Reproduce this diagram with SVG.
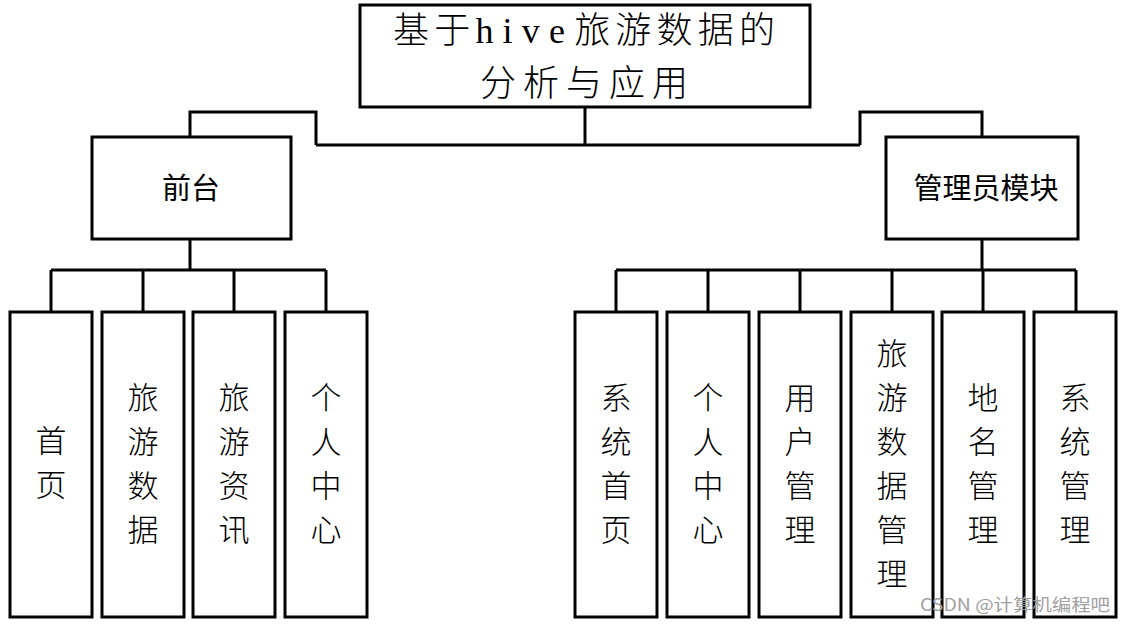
<svg xmlns="http://www.w3.org/2000/svg" width="1126" height="624" viewBox="0 0 1126 624">
<style>
.box{fill:#fff;stroke:#000;stroke-width:3}
.ln{fill:none;stroke:#000;stroke-width:3;stroke-linejoin:miter}
.t{font-family:"Noto Sans CJK SC","Noto Sans",sans-serif;fill:#000;text-anchor:middle}
.title{font-size:36px;font-weight:300}
.lat{font-family:"Liberation Serif",serif;font-weight:400;letter-spacing:4px}
.mid{font-size:29px}
.leaf{font-size:31px;font-weight:300}
.wm{font-family:"Noto Sans CJK SC","Noto Sans",sans-serif;font-size:17px;fill:#a0a0a0}
</style>
<rect width="1126" height="624" fill="#fff"/>
<g id="connectors">
<path class="ln" d="M585 107V145M316 145H860M316 145V112H190V137M860 145V112H982V137"/>
<path class="ln" d="M190 239V270M51 270H326M51 270V312M143 270V312M234 270V312M326 270V312"/>
<path class="ln" d="M982 239V270M616 270H1076M616 270V312M708 270V312M800 270V312M892 270V312M983 270V312M1076 270V312"/>
</g>
<g id="root">
<rect class="box" x="360" y="5" width="450" height="102"/>
<text class="t title" x="584" y="43" textLength="382" lengthAdjust="spacing">基于<tspan class="lat">hive</tspan>旅游数据的</text>
<text class="t title" x="584" y="96" textLength="208" lengthAdjust="spacing">分析与应用</text>
</g>
<g id="qiantai">
<rect class="box" x="92" y="137" width="199" height="102"/>
<text class="t mid" x="191" y="199">前台</text>
</g>
<g id="admin">
<rect class="box" x="886" y="137" width="192" height="102"/>
<text class="t mid" x="986" y="199">管理员模块</text>
</g>
<g id="n1"><rect class="box" x="10" y="312" width="82" height="305"/>
<text class="t leaf" x="51"><tspan x="51" y="452">首</tspan><tspan x="51" y="496">页</tspan></text></g>
<g id="n2"><rect class="box" x="102" y="312" width="82" height="305"/>
<text class="t leaf"><tspan x="143" y="409">旅</tspan><tspan x="143" y="453">游</tspan><tspan x="143" y="497">数</tspan><tspan x="143" y="541">据</tspan></text></g>
<g id="n3"><rect class="box" x="193" y="312" width="82" height="305"/>
<text class="t leaf"><tspan x="234" y="409">旅</tspan><tspan x="234" y="453">游</tspan><tspan x="234" y="497">资</tspan><tspan x="234" y="541">讯</tspan></text></g>
<g id="n4"><rect class="box" x="285" y="312" width="82" height="305"/>
<text class="t leaf"><tspan x="326" y="409">个</tspan><tspan x="326" y="453">人</tspan><tspan x="326" y="497">中</tspan><tspan x="326" y="541">心</tspan></text></g>
<g id="m1"><rect class="box" x="575" y="312" width="82" height="305"/>
<text class="t leaf"><tspan x="616" y="409">系</tspan><tspan x="616" y="453">统</tspan><tspan x="616" y="497">首</tspan><tspan x="616" y="541">页</tspan></text></g>
<g id="m2"><rect class="box" x="667" y="312" width="82" height="305"/>
<text class="t leaf"><tspan x="708" y="409">个</tspan><tspan x="708" y="453">人</tspan><tspan x="708" y="497">中</tspan><tspan x="708" y="541">心</tspan></text></g>
<g id="m3"><rect class="box" x="759" y="312" width="82" height="305"/>
<text class="t leaf"><tspan x="800" y="409">用</tspan><tspan x="800" y="453">户</tspan><tspan x="800" y="497">管</tspan><tspan x="800" y="541">理</tspan></text></g>
<g id="m4"><rect class="box" x="851" y="312" width="82" height="305"/>
<text class="t leaf"><tspan x="892" y="365">旅</tspan><tspan x="892" y="409">游</tspan><tspan x="892" y="453">数</tspan><tspan x="892" y="497">据</tspan><tspan x="892" y="541">管</tspan><tspan x="892" y="585">理</tspan></text></g>
<g id="m5"><rect class="box" x="942" y="312" width="82" height="305"/>
<text class="t leaf"><tspan x="983" y="409">地</tspan><tspan x="983" y="453">名</tspan><tspan x="983" y="497">管</tspan><tspan x="983" y="541">理</tspan></text></g>
<g id="m6"><rect class="box" x="1034" y="312" width="82" height="305"/>
<text class="t leaf"><tspan x="1075" y="409">系</tspan><tspan x="1075" y="453">统</tspan><tspan x="1075" y="497">管</tspan><tspan x="1075" y="541">理</tspan></text></g>
<text class="wm" x="920" y="611" textLength="190" lengthAdjust="spacingAndGlyphs">CSDN @计算机编程吧</text>
</svg>
